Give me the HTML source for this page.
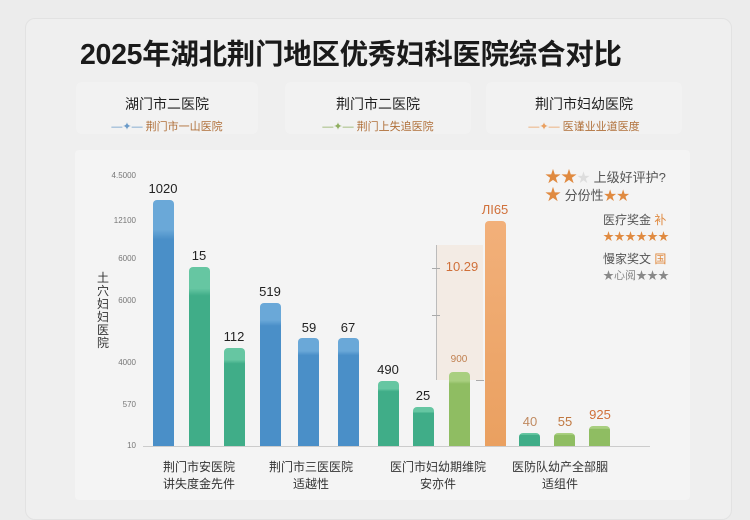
<!DOCTYPE html>
<html><head><meta charset="utf-8"><style>
body{margin:0;width:750px;height:500px;background:#ececec;font-family:"Liberation Sans","Noto Sans CJK SC",sans-serif;position:relative;overflow:hidden}
.a{position:absolute}
.card{left:25px;top:18px;width:705px;height:500px;background:#efefef;border:1px solid #e2e2e2;border-radius:10px}
.title{left:80px;top:32px;font-size:28.5px;font-weight:bold;color:#1a1a1a;letter-spacing:-0.3px}
.lg{background:#f2f2f2;border-radius:6px;top:82px;height:52px}
.lg .t{position:absolute;top:12px;width:100%;text-align:center;font-size:14px;color:#222}
.lg .l{position:absolute;top:36px;width:100%;text-align:center;font-size:11px;color:#b0703a}
.panel{left:75px;top:150px;width:615px;height:350px;background:#f4f4f4;border-radius:4px}
.bar{position:absolute;bottom:54px;width:21px;border-radius:4px 4px 0 0}
.bl{background:linear-gradient(#6aa8d8 0,#6aa8d8 12%,#4a8fc8 16%,#4a8fc8)}
.gr{background:linear-gradient(#66c6a2 0,#66c6a2 12%,#40ad88 16%,#40ad88)}
.lgr{background:linear-gradient(#a9cf80 0,#a9cf80 12%,#8fbd62 16%,#8fbd62)}
.or{background:linear-gradient(#f2b07a,#eaa060)}
.v{position:absolute;font-size:13px;color:#222;width:40px;text-align:center}
.yt{position:absolute;font-size:8px;color:#777;width:30px;text-align:right;left:106px}
.xl{position:absolute;font-size:12px;color:#333;text-align:center;line-height:17px;width:120px}
.s{color:#e08a40}
</style></head><body>
<div class="a card"></div>
<div class="a title">2025年湖北荆门地区优秀妇科医院综合对比</div>
<div class="a lg" style="left:76px;width:182px"><div class="t">湖门市二医院</div><div class="l"><span style="color:#6a9ac8">—✦—</span> 荆门市一山医院</div></div>
<div class="a lg" style="left:285px;width:186px"><div class="t">荆门市二医院</div><div class="l"><span style="color:#8fae60">—✦—</span> 荆门上失追医院</div></div>
<div class="a lg" style="left:486px;width:196px"><div class="t">荆门市妇幼医院</div><div class="l"><span style="color:#eaa060">—✦—</span> 医谨业业道医度</div></div>
<div class="a panel"></div>
<div class="yt" style="top:171px">4.5000</div>
<div class="yt" style="top:216px">12100</div>
<div class="yt" style="top:254px">6000</div>
<div class="yt" style="top:296px">6000</div>
<div class="yt" style="top:358px">4000</div>
<div class="yt" style="top:400px">570</div>
<div class="yt" style="top:441px">10</div>
<div class="a" style="left:97px;top:272px;width:12px;font-size:12px;line-height:13px;color:#333">土<br>穴<br>妇<br>妇<br>医<br>院</div>
<div class="a" style="left:143px;top:446px;width:507px;height:1px;background:#ccc"></div>
<div class="a" style="left:436px;top:245px;width:46px;height:135px;background:#f3ebe4;border-left:1px solid #bbb"></div>
<div class="a" style="left:432px;top:268px;width:8px;height:1px;background:#aaa"></div>
<div class="a" style="left:432px;top:315px;width:8px;height:1px;background:#aaa"></div>
<div class="a" style="left:476px;top:380px;width:8px;height:1px;background:#aaa"></div>
<div class="a" style="left:0;top:0;width:750px;height:500px">
<div class="bar bl" style="left:153px;top:200px"></div>
<div class="bar gr" style="left:189px;top:267px"></div>
<div class="bar gr" style="left:224px;top:348px"></div>
<div class="bar bl" style="left:260px;top:303px"></div>
<div class="bar bl" style="left:298px;top:338px"></div>
<div class="bar bl" style="left:338px;top:338px"></div>
<div class="bar gr" style="left:378px;top:381px"></div>
<div class="bar gr" style="left:413px;top:407px"></div>
<div class="bar lgr" style="left:449px;top:372px"></div>
<div class="bar or" style="left:485px;top:221px"></div>
<div class="bar gr" style="left:519px;top:433px"></div>
<div class="bar lgr" style="left:554px;top:433px"></div>
<div class="bar lgr" style="left:589px;top:426px"></div>
</div>
<div class="v" style="left:143px;top:181px">1020</div>
<div class="v" style="left:179px;top:248px">15</div>
<div class="v" style="left:214px;top:329px">112</div>
<div class="v" style="left:250px;top:284px">519</div>
<div class="v" style="left:289px;top:320px">59</div>
<div class="v" style="left:328px;top:320px">67</div>
<div class="v" style="left:368px;top:362px">490</div>
<div class="v" style="left:403px;top:388px">25</div>
<div class="v" style="left:439px;top:354px;color:#c08050;font-size:10px">900</div>
<div class="v" style="left:475px;top:202px;color:#d0703a">ЛI65</div>
<div class="v" style="left:442px;top:259px;color:#d0703a">10.29</div>
<div class="v" style="left:510px;top:414px;color:#c08a60">40</div>
<div class="v" style="left:545px;top:414px;color:#c07840">55</div>
<div class="v" style="left:580px;top:407px;color:#d0703a">925</div>
<div class="a" style="left:545px;top:163px;font-size:13px;color:#555"><span class="s" style="font-size:16px">★★</span><span style="color:#ddd">★</span> 上级好评护?</div>
<div class="a" style="left:545px;top:181px;font-size:13px;color:#555"><span class="s" style="font-size:16px">★</span> 分份性<span class="s">★★</span></div>
<div class="a" style="left:603px;top:211px;font-size:12px;color:#555">医疗奖金 <span class="s">补</span><br><span class="s" style="font-size:11px">★★★★★★</span></div>
<div class="a" style="left:603px;top:250px;font-size:12px;color:#555">慢家奖文 <span class="s">国</span><br><span style="color:#888;font-size:11px">★心阅★★★</span></div>
<div class="xl" style="left:139px;top:459px">荆门市安医院<br>讲失度金先件</div>
<div class="xl" style="left:251px;top:459px">荆门市三医医院<br>适越性</div>
<div class="xl" style="left:378px;top:459px">医门市妇幼期维院<br>安亦件</div>
<div class="xl" style="left:500px;top:459px">医防队幼产全部胭<br>适组件</div>
</body></html>
